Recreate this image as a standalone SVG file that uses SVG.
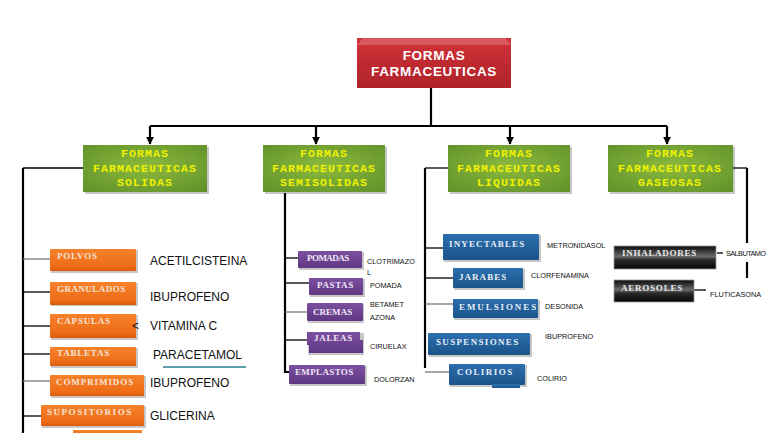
<svg xmlns="http://www.w3.org/2000/svg" width="768" height="433" viewBox="0 0 768 433">
<defs>
  <linearGradient id="gRed" x1="0" y1="0" x2="0" y2="1">
    <stop offset="0" stop-color="#cf3238"/>
    <stop offset="1" stop-color="#b0222a"/>
  </linearGradient>
  <radialGradient id="gGreen" cx="0.5" cy="0.45" r="0.7">
    <stop offset="0" stop-color="#8cba3e"/>
    <stop offset="1" stop-color="#62922a"/>
  </radialGradient>
  <linearGradient id="gOrange" x1="0" y1="0" x2="0" y2="1">
    <stop offset="0" stop-color="#f6822c"/>
    <stop offset="0.8" stop-color="#ee6c16"/>
    <stop offset="1" stop-color="#d9590e"/>
  </linearGradient>
  <linearGradient id="gPurple" x1="0" y1="0" x2="0" y2="1">
    <stop offset="0" stop-color="#7c50a0"/>
    <stop offset="1" stop-color="#5f3782"/>
  </linearGradient>
  <linearGradient id="gBlue" x1="0" y1="0" x2="0" y2="1">
    <stop offset="0" stop-color="#2d6fae"/>
    <stop offset="1" stop-color="#1b5389"/>
  </linearGradient>
  <linearGradient id="gBlack" x1="0" y1="0" x2="0" y2="1">
    <stop offset="0" stop-color="#0a0a0a"/>
    <stop offset="0.45" stop-color="#6a6a6a"/>
    <stop offset="0.6" stop-color="#2a2a2a"/>
    <stop offset="1" stop-color="#050505"/>
  </linearGradient>
  <marker id="arr" viewBox="0 0 10 10" refX="9" refY="5" markerWidth="3.6" markerHeight="3.6" orient="auto">
    <path d="M0,0 L10,5 L0,10 z" fill="#000"/>
  </marker>
  <style>
    .red{fill:url(#gRed)}
    .green{fill:url(#gGreen)}
    .orange{fill:url(#gOrange)}
    .purple{fill:url(#gPurple)}
    .blue{fill:url(#gBlue)}
    .black{fill:url(#gBlack);stroke:#9a9a9a;stroke-width:0.8}
    .sh{fill:#000;opacity:0.22}
    .tRed{font-family:"Liberation Sans",Arial,sans-serif;font-weight:bold;font-size:13.5px;fill:#fff;text-anchor:middle;letter-spacing:0.7px}
    .tGreen{font-family:"Liberation Mono","Courier New",monospace;font-weight:bold;font-size:11.5px;fill:#eef200;text-anchor:middle;letter-spacing:1.1px}
    .tBox{font-family:"Liberation Serif","Times New Roman",serif;font-weight:bold;font-size:9px;letter-spacing:0.8px}
    .tOr{fill:#f5e3d6}
    .tPu{fill:#efe6f6}
    .tBl{fill:#e6eef8}
    .tBk{fill:#e8e8e8}
    .tMed{font-family:"Liberation Sans",Arial,sans-serif;font-size:12px;fill:#111}
    .tSm{font-family:"Liberation Sans",Arial,sans-serif;font-size:7.3px;fill:#111}
    .ln{stroke:#000;fill:none;stroke-width:2.2}
    .thin{stroke:#000;fill:none;stroke-width:1.3}
    .gray{stroke:#777;fill:none;stroke-width:1.3}
  </style>
</defs>
<rect width="768" height="433" fill="#fff"/>

<g id="connectors">
  <path class="ln" d="M431,88 V126 M150,126 H667"/>
  <path class="ln" d="M150,126 V144" marker-end="url(#arr)"/>
  <path class="ln" d="M316,126 V144" marker-end="url(#arr)"/>
  <path class="ln" d="M510,126 V144" marker-end="url(#arr)"/>
  <path class="ln" d="M667,126 V144" marker-end="url(#arr)"/>
  <path class="thin" d="M83,168 H23"/>
  <path class="ln" d="M23,168 V433"/>
  <path class="gray" d="M23,259 H50"/>
  <path class="thin" d="M23,292 H50"/>
  <path class="thin" d="M23,326 H50"/>
  <path class="thin" d="M23,354 H50"/>
  <path class="gray" d="M23,381 H50"/>
  <path class="thin" d="M23,416 H41"/>
  <path class="ln" d="M285,193 V372 H289"/>
  <path class="thin" d="M285,258 H298"/>
  <path class="thin" d="M285,283 H309"/>
  <path class="gray" d="M285,312 H307"/>
  <path class="thin" d="M285,340 H307"/>
  <path class="thin" d="M448,168 H425"/>
  <path class="ln" d="M425,168 V368"/>
  <path class="thin" d="M425,248 H443"/>
  <path class="thin" d="M425,278 H453"/>
  <path class="gray" d="M425,304 H453"/>
  <path class="gray" d="M425,372 H449"/>
  <path class="thin" d="M733,168 H747"/>
  <path class="ln" d="M747,168 V243 M747,262 V278"/>
  <path class="thin" d="M717,253 H723"/>
  <path class="thin" d="M694,290 H706"/>
  <path d="M163,367 H246" stroke="#2a7f8f" stroke-width="1.3" fill="none"/>
</g>

<g id="root">
  <rect class="red" x="357" y="38" width="154" height="50"/>
  <polygon points="357,45 363,38 505,38 511,45" fill="#d8585e"/>
  <text class="tRed" x="434" y="60">FORMAS</text>
  <text class="tRed" x="434" y="76">FARMACEUTICAS</text>
</g>

<g id="solidas">
  <rect class="sh" x="85" y="147" width="124" height="47"/>
  <rect class="green" x="83" y="145" width="124" height="47"/>
  <text class="tGreen" x="145" y="157">FORMAS</text>
  <text class="tGreen" x="145" y="172">FARMACEUTICAS</text>
  <text class="tGreen" x="145" y="186">SOLIDAS</text>
</g>
<g id="semisolidas">
  <rect class="sh" x="265" y="147" width="122" height="47"/>
  <rect class="green" x="263" y="145" width="122" height="47"/>
  <text class="tGreen" x="324" y="157">FORMAS</text>
  <text class="tGreen" x="324" y="172">FARMACEUTICAS</text>
  <text class="tGreen" x="324" y="186">SEMISOLIDAS</text>
</g>
<g id="liquidas">
  <rect class="sh" x="450" y="147" width="122" height="47"/>
  <rect class="green" x="448" y="145" width="122" height="47"/>
  <text class="tGreen" x="509" y="157">FORMAS</text>
  <text class="tGreen" x="509" y="172">FARMACEUTICAS</text>
  <text class="tGreen" x="509" y="186">LIQUIDAS</text>
</g>
<g id="gaseosas">
  <rect class="sh" x="610" y="147" width="125" height="47"/>
  <rect class="green" x="608" y="145" width="125" height="47"/>
  <text class="tGreen" x="670" y="157">FORMAS</text>
  <text class="tGreen" x="670" y="172">FARMACEUTICAS</text>
  <text class="tGreen" x="670" y="186">GASEOSAS</text>
</g>

<g id="polvos">
  <rect class="sh" x="51" y="250" width="87" height="23"/>
  <rect class="orange" x="50" y="249" width="86" height="22" rx="1"/>
  <text class="tBox tOr" x="57" y="259">POLVOS</text>
  <text class="tMed" x="150" y="265">ACETILCISTEINA</text>
</g>
<g id="granulados">
  <rect class="sh" x="51" y="283" width="87" height="23"/>
  <rect class="orange" x="50" y="282" width="86" height="23" rx="1"/>
  <text class="tBox tOr" x="57" y="292" textLength="69">GRANULADOS</text>
  <text class="tMed" x="150" y="301">IBUPROFENO</text>
</g>
<g id="capsulas">
  <rect class="sh" x="51" y="315" width="87" height="25"/>
  <rect class="orange" x="50" y="314" width="86" height="24" rx="1"/>
  <text class="tBox tOr" x="57" y="324">CAPSULAS</text>
  <text class="tMed" x="132" y="330">&lt;</text>
  <text class="tMed" x="150" y="330">VITAMINA C</text>
</g>
<g id="tabletas">
  <rect class="sh" x="51" y="348" width="87" height="20"/>
  <rect class="orange" x="50" y="347" width="86" height="19" rx="1"/>
  <text class="tBox tOr" x="57" y="356">TABLETAS</text>
  <text class="tMed" x="153" y="359">PARACETAMOL</text>
</g>
<g id="comprimidos">
  <rect class="sh" x="51" y="376" width="95" height="22"/>
  <rect class="orange" x="50" y="375" width="94" height="21" rx="1"/>
  <text class="tBox tOr" x="56" y="385" textLength="78">COMPRIMIDOS</text>
  <text class="tMed" x="150" y="387">IBUPROFENO</text>
</g>
<g id="supositorios">
  <rect class="sh" x="42" y="406" width="104" height="22"/>
  <rect class="orange" x="41" y="405" width="103" height="21" rx="1"/>
  <text class="tBox tOr" x="47" y="415" textLength="85">SUPOSITORIOS</text>
  <text class="tMed" x="150" y="420">GLICERINA</text>
</g>
<g id="extra-solida">
  <rect class="orange" x="73" y="430" width="69" height="10" rx="1"/>
</g>

<g id="pomadas">
  <rect class="sh" x="299" y="252" width="65" height="18"/>
  <rect class="purple" x="298" y="251" width="64" height="17" rx="1"/>
  <text class="tBox tPu" x="307" y="261" textLength="43">POMADAS</text>
  <text class="tSm" x="367" y="264">CLOTRIMAZO</text>
  <text class="tSm" x="367" y="275">L</text>
</g>
<g id="pastas">
  <rect class="sh" x="310" y="279" width="55" height="18"/>
  <rect class="purple" x="309" y="278" width="54" height="17" rx="1"/>
  <text class="tBox tPu" x="317" y="288" textLength="37">PASTAS</text>
  <text class="tSm" x="370" y="288">POMADA</text>
</g>
<g id="cremas">
  <rect class="sh" x="308" y="304" width="56" height="19"/>
  <rect class="purple" x="307" y="303" width="56" height="18" rx="1"/>
  <text class="tBox tPu" x="313" y="315" textLength="40">CREMAS</text>
  <text class="tSm" x="370" y="307">BETAMET</text>
  <text class="tSm" x="370" y="320">AZONA</text>
</g>
<g id="jaleas">
  <rect class="sh" x="308" y="333" width="56" height="22"/>
  <path class="purple" d="M307,332 H360 V340 H363 V353 H309 V345 H307 Z"/>
  <text class="tBox tPu" x="314" y="341" textLength="39">JALEAS</text>
  <text class="tSm" x="370" y="349">CIRUELAX</text>
</g>
<g id="emplastos">
  <rect class="sh" x="290" y="366" width="77" height="20"/>
  <rect class="purple" x="289" y="365" width="76" height="19" rx="1"/>
  <text class="tBox tPu" x="295" y="375" textLength="59">EMPLASTOS</text>
  <text class="tSm" x="374" y="382">DOLORZAN</text>
</g>

<g id="inyectables">
  <rect class="sh" x="444" y="235" width="97" height="27"/>
  <rect class="blue" x="443" y="234" width="96" height="26" rx="1"/>
  <text class="tBox tBl" x="449" y="247" textLength="76">INYECTABLES</text>
  <text class="tSm" x="547" y="248">METRONIDASOL</text>
</g>
<g id="jarabes">
  <rect class="sh" x="454" y="269" width="71" height="21"/>
  <rect class="blue" x="453" y="268" width="70" height="20" rx="1"/>
  <text class="tBox tBl" x="459" y="280" textLength="48">JARABES</text>
  <text class="tSm" x="531" y="278">CLORFENAMINA</text>
</g>
<g id="emulsiones">
  <rect class="sh" x="454" y="300" width="86" height="20"/>
  <rect class="blue" x="453" y="299" width="85" height="19" rx="1"/>
  <text class="tBox tBl" x="459" y="310" textLength="78">EMULSIONES</text>
  <text class="tSm" x="545" y="309">DESONIDA</text>
</g>
<g id="suspensiones">
  <rect class="sh" x="429" y="334" width="103" height="23"/>
  <rect class="blue" x="428" y="333" width="102" height="22" rx="1"/>
  <text class="tBox tBl" x="436" y="345" textLength="83">SUSPENSIONES</text>
  <text class="tSm" x="545" y="339">IBUPROFENO</text>
</g>
<g id="colirios">
  <rect class="sh" x="450" y="365" width="77" height="22"/>
  <rect class="blue" x="449" y="364" width="76" height="21" rx="1"/>
  <rect class="blue" x="492" y="384" width="28" height="4"/>
  <text class="tBox tBl" x="457" y="375" textLength="56">COLIRIOS</text>
  <text class="tSm" x="537" y="381">COLIRIO</text>
</g>

<g id="inhaladores">
  <rect class="black" x="614" y="246" width="102" height="23"/>
  <text class="tBox tBk" x="622" y="256" textLength="75">INHALADORES</text>
  <text class="tSm" x="726" y="256" textLength="40">SALBUTAMO</text>
</g>
<g id="aerosoles">
  <rect class="black" x="614" y="280" width="80" height="22"/>
  <text class="tBox tBk" x="621" y="291" textLength="62">AEROSOLES</text>
  <text class="tSm" x="710" y="297">FLUTICASONA</text>
</g>
</svg>
